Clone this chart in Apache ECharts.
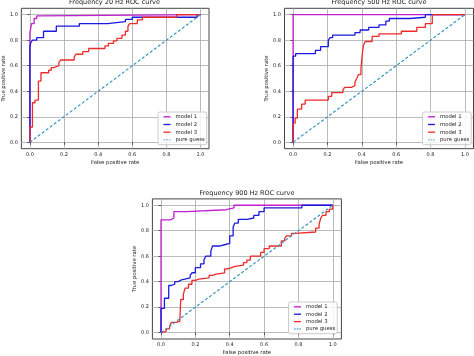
<!DOCTYPE html>
<html><head><meta charset="utf-8">
<script src="https://cdn.jsdelivr.net/npm/echarts@6/dist/echarts.min.js"></script>
<style>html,body{margin:0;padding:0;background:#fff}#c{width:474px;height:356px}</style>
</head><body><div id="c"></div>
<script>
// ---------- data ----------
const tickValues = [0, 0.2, 0.4, 0.6, 0.8, 1.0];
const legendNames = ['model 1', 'model 2', 'model 3', 'pure guess'];
const chartTitles = ['Frequency 20 Hz ROC curve', 'Frequency 500 Hz ROC curve', 'Frequency 900 Hz ROC curve'];
const xAxisTitle = 'False positive rate';
const yAxisTitle = 'True positive rate';

// 20 Hz (corner points; horizontal move then vertical move)
const m1_20_fpr = [0, 0, 0.01, 0.025, 0.04, 0.055, 1];
const m1_20_tpr = [0, 0.86, 0.93, 0.97, 0.99, 1, 1];
const m2_20_fpr = [0, 0, 0.005, 0.015, 0.04, 0.08, 0.155, 0.29, 0.455, 0.56, 0.6, 0.98, 1];
const m2_20_tpr = [0, 0.745, 0.78, 0.80, 0.82, 0.87, 0.91, 0.93, 0.945, 0.963, 0.98, 1, 1];
const m3_20_fpr = [0, 0, 0.015, 0.03, 0.05, 0.065, 0.11, 0.125, 0.14, 0.17, 0.18, 0.26, 0.27, 0.31, 0.345, 0.44, 0.46, 0.49, 0.51, 0.54, 0.56, 0.575, 0.585, 0.63, 0.66, 0.86, 1];
const m3_20_tpr = [0, 0.12, 0.31, 0.33, 0.48, 0.545, 0.565, 0.585, 0.6, 0.625, 0.645, 0.67, 0.69, 0.71, 0.735, 0.755, 0.775, 0.795, 0.815, 0.84, 0.87, 0.91, 0.93, 0.96, 0.98, 1, 1];

// 500 Hz
const m1_500_fpr = [0, 0, 1];
const m1_500_tpr = [0, 1, 1];
const m2_500_fpr = [0, 0, 0.015, 0.13, 0.16, 0.205, 0.215, 0.23, 0.36, 0.39, 0.44, 0.5, 0.54, 0.56, 0.68, 0.77, 1];
const m2_500_tpr = [0, 0.675, 0.695, 0.72, 0.75, 0.8, 0.82, 0.84, 0.86, 0.88, 0.9, 0.92, 0.95, 0.97, 0.98, 1, 1];
const m3_500_fpr = [0, 0, 0.012, 0.025, 0.05, 0.07, 0.205, 0.225, 0.29, 0.3, 0.34, 0.36, 0.37, 0.38, 0.395, 0.405, 0.41, 0.42, 0.46, 0.5, 0.63, 0.72, 0.77, 0.81, 1];
const m3_500_tpr = [0, 0.15, 0.19, 0.26, 0.3, 0.33, 0.36, 0.39, 0.41, 0.43, 0.445, 0.47, 0.5, 0.53, 0.58, 0.72, 0.76, 0.79, 0.83, 0.85, 0.87, 0.9, 0.93, 1, 1];

// 900 Hz
const m1_900_fpr = [0, 0, 0.055, 0.075, 0.15, 0.38, 0.425, 1];
const m1_900_tpr = [0, 0.885, 0.9, 0.95, 0.965, 0.98, 1, 1];
const m2_900_fpr = [0, 0, 0.02, 0.045, 0.06, 0.08, 0.1, 0.12, 0.17, 0.18, 0.2, 0.23, 0.25, 0.26, 0.29, 0.3, 0.34, 0.37, 0.4, 0.42, 0.43, 0.45, 0.5, 0.54, 0.57, 0.6, 0.82, 1];
const m2_900_tpr = [0, 0.19, 0.27, 0.37, 0.38, 0.4, 0.415, 0.43, 0.45, 0.47, 0.51, 0.54, 0.57, 0.6, 0.64, 0.68, 0.69, 0.7, 0.76, 0.83, 0.86, 0.89, 0.9, 0.92, 0.95, 0.98, 1, 1];
const m3_900_fpr = [0, 0, 0.03, 0.05, 0.06, 0.09, 0.11, 0.115, 0.13, 0.14, 0.16, 0.18, 0.2, 0.22, 0.28, 0.3, 0.32, 0.37, 0.39, 0.41, 0.43, 0.48, 0.5, 0.52, 0.58, 0.6, 0.63, 0.7, 0.72, 0.73, 0.76, 0.78, 0.9, 0.92, 0.93, 0.94, 0.96, 0.98, 1, 1];
const m3_900_tpr = [0, 0.01, 0.03, 0.05, 0.08, 0.09, 0.11, 0.26, 0.3, 0.35, 0.38, 0.41, 0.42, 0.43, 0.45, 0.46, 0.47, 0.5, 0.51, 0.52, 0.53, 0.55, 0.57, 0.6, 0.63, 0.66, 0.68, 0.72, 0.74, 0.76, 0.78, 0.79, 0.82, 0.85, 0.9, 0.92, 0.95, 0.97, 0.98, 1];

// diagonal
const guess_fpr = [0, 1];
const guess_tpr = [0, 1];

// ---------- styling / layout ----------
const COLORS = ['#c21fd2', '#1a1ae0', '#ee2a2a', '#3a94c0'];
const FONT = 'DejaVu Sans';
const grids = [
  {left: 20, top: 8.3, width: 189, height: 140.4},
  {left: 284.5, top: 8.3, width: 189, height: 140.4},
  {left: 152.4, top: 198.9, width: 189, height: 140.5}
];
const titlePos = [{cx: 114.5, top: -0.8}, {cx: 379, top: -0.8}, {cx: 247, top: 190.3}];
const legendPos = [{left: 158, top: 112, gap: 2.7}, {left: 422.5, top: 112, gap: 2.7}, {left: 288.5, top: 302, gap: 2.4}];

const curves = [
  [[m1_20_fpr, m1_20_tpr], [m2_20_fpr, m2_20_tpr], [m3_20_fpr, m3_20_tpr], [guess_fpr, guess_tpr]],
  [[m1_500_fpr, m1_500_tpr], [m2_500_fpr, m2_500_tpr], [m3_500_fpr, m3_500_tpr], [guess_fpr, guess_tpr]],
  [[m1_900_fpr, m1_900_tpr], [m2_900_fpr, m2_900_tpr], [m3_900_fpr, m3_900_tpr], [guess_fpr, guess_tpr]]
];

function zip(a, b) { return a.map((v, i) => [v, b[i]]); }

const axisCommon = {
  type: 'value', min: -0.05, max: 1.05,
  axisLine: {show: false},
  axisTick: {show: true, customValues: tickValues, length: 2.5, lineStyle: {color: '#333', width: 0.8}},
  axisLabel: {customValues: tickValues, fontSize: 5, color: '#1a1a1a', fontFamily: FONT, margin: 3.5,
    formatter: v => v.toFixed(1)},
  splitLine: {show: true, lineStyle: {color: '#aaaaaa', width: 0.8}},
  nameLocation: 'middle',
  nameTextStyle: {fontSize: 5.3, color: '#1a1a1a', fontFamily: FONT}
};

const legendData = legendNames.map((n, i) => ({
  name: n,
  icon: i < 3 ? 'rect' : 'path://M0,0h2.2v1h-2.2zM3.2,0h2.2v1h-2.2zM6.4,0h2.2v1h-2.2z'
}));

const option = {
  animation: false,
  backgroundColor: '#fff',
  title: chartTitles.map((t, i) => ({
    text: t, left: titlePos[i].cx, top: titlePos[i].top, textAlign: 'center', padding: 0,
    textStyle: {fontSize: 6.5, fontWeight: 'normal', color: '#1a1a1a', fontFamily: FONT}
  })),
  grid: grids.map(g => Object.assign({show: true, borderColor: '#444', borderWidth: 1, backgroundColor: 'transparent'}, g)),
  xAxis: grids.map((g, i) => Object.assign({}, axisCommon, {gridIndex: i, name: xAxisTitle, nameGap: 11})),
  yAxis: grids.map((g, i) => Object.assign({}, axisCommon, {gridIndex: i, name: yAxisTitle, nameGap: 14.5})),
  legend: legendPos.map(p => ({
    data: legendData, orient: 'vertical', left: p.left, top: p.top,
    padding: [2.3, 2, 2.3, 5.5], itemGap: p.gap, itemWidth: 7, itemHeight: 1.3,
    backgroundColor: 'rgba(255,255,255,0.85)', borderColor: '#ccc', borderWidth: 1, borderRadius: 2,
    textStyle: {fontSize: 5.3, color: '#1a1a1a', fontFamily: FONT},
    selectedMode: false
  })),
  series: []
};

curves.forEach((set, ci) => {
  set.forEach((c, si) => {
    option.series.push({
      type: 'line', name: legendNames[si], xAxisIndex: ci, yAxisIndex: ci,
      data: zip(c[0], c[1]), step: si < 3 ? 'end' : false,
      symbol: 'none', showSymbol: false, z: 2 + si,
      lineStyle: {color: COLORS[si], width: si < 3 ? 1.3 : 1.2, type: si < 3 ? 'solid' : [3, 2]},
      itemStyle: {color: COLORS[si]}
    });
  });
});

const chart = echarts.init(document.getElementById('c'), null, {renderer: 'canvas'});
chart.setOption(option);
</script></body></html>
